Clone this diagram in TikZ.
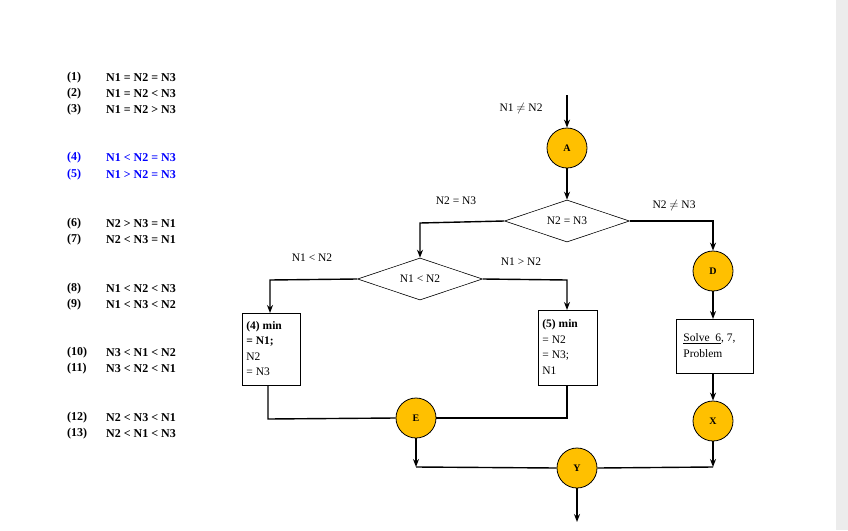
\documentclass[tikz,border=0pt]{standalone}
\usepackage{fontspec}
\setmainfont{Liberation Serif}
\usetikzlibrary{shapes.geometric,arrows.meta}
\definecolor{node yellow}{HTML}{FFC000}
\definecolor{list blue}{HTML}{0000FF}
\begin{document}
\begin{tikzpicture}[x=1pt,y=-1pt,font=\fontsize{11.5}{13}\selectfont,
  flow/.style={line width=1.4pt,-{Stealth[length=8pt,width=6pt]}},
  link/.style={line width=1.4pt},
  conn/.style={circle,draw,line width=0.8pt,fill=node yellow,minimum size=40pt,inner sep=0pt,font=\fontsize{10}{11}\selectfont\bfseries},
  dec/.style={diamond,draw,line width=0.6pt,aspect=3,minimum width=125pt,minimum height=42pt,inner sep=0pt},
  proc/.style={draw,line width=0.8pt,align=left,anchor=north west,inner sep=0pt},
  lbl/.style={anchor=west,inner sep=0pt}]
\useasboundingbox (0,0) rectangle (848,530);
\fill[gray!15] (836,0) rectangle (848,530);
% list
\foreach \y/\n/\t/\c in {78/1/N1 = N2 = N3/black,94/2/N1 = N2 < N3/black,110/3/N1 = N2 > N3/black,
  158/4/N1 < N2 = N3/list blue,175/5/N1 > N2 = N3/list blue,
  224/6/N2 > N3 = N1/black,240/7/N2 < N3 = N1/black,
  289/8/N1 < N2 < N3/black,305/9/N1 < N3 < N2/black,
  353/10/N3 < N1 < N2/black,369/11/N3 < N2 < N1/black,
  418/12/N2 < N3 < N1/black,434/13/N2 < N1 < N3/black}{
  \node[lbl,text=\c,font=\fontsize{12}{13}\selectfont\bfseries] (l\n) at (67,\y) {(\n)};
  \node[lbl,text=\c,font=\fontsize{12}{13}\selectfont\bfseries] (t\n) at (106,\y) {\t};
}
% flowchart nodes
\coordinate (start) at (567,95);
\node[conn] (A) at (567,148) {A};
\node[dec] (d1) at (567,221) {N2 = N3};
\node[dec] (d2) at (420,279) {N1 < N2};
\node[conn] (D) at (713,271) {D};
\node[proc,minimum width=58pt,minimum height=72pt] (b4) at (242,313)
  {\hspace*{4pt}\parbox[t]{54pt}{\fontsize{11.5}{15.5}\selectfont\vspace{-2pt}\textbf{(4) min}\\\textbf{= N1;}\\N2\\= N3}};
\node[proc,minimum width=59pt,minimum height=75pt] (b5) at (538,310)
  {\hspace*{4pt}\parbox[t]{55pt}{\fontsize{11.5}{15.5}\selectfont\vspace{-2pt}\textbf{(5) min}\\= N2\\= N3;\\N1}};
\node[proc,minimum width=77pt,minimum height=54pt] (b6) at (676,319)
  {\hspace*{7pt}\parbox[t]{70pt}{\fontsize{11.5}{15.5}\selectfont\vspace{-2pt}\underline{Solve\ \ 6}, 7,\\Problem}};
\node[conn] (X) at (713,421) {X};
\node[conn] (E) at (416,418) {E};
\node[conn] (Y) at (577,468) {Y};
\coordinate (end) at (577,522);
% labels
\node (la) at (521,108) {N1 $\neq$ N2};
\node (lb) at (456,201) {N2 = N3};
\node (lc) at (674,205) {N2 $\neq$ N3};
\node (ld) at (312,258) {N1 < N2};
\node (le) at (521,262) {N1 > N2};
% connectors
\draw[flow] (start) -- (A);
\draw[flow] (A) -- (d1);
\draw[flow] (d1.west) -- (420,223) -- (d2.north);
\draw[flow] (d1.east) -- (713,221) -- (D);
\draw[flow] (d2.west) -- (270,280) -- (270,313);
\draw[flow] (d2.east) -- (567,280) -- (567,310);
\draw[flow] (D) -- (D|-b6.north);
\draw[flow] (X|-b6.south) -- (X);
\draw[link] (268,385) -- (268,419) -- (E.west);
\draw[link] (567,385) -- (567,418) -- (E.east);
\draw[flow] (E) -- (416,467);
\draw[link] (416,467) -- (Y.west);
\draw[flow] (X) -- (713,467);
\draw[link] (713,467) -- (Y.east);
\draw[flow] (Y) -- (end);
\end{tikzpicture}
\end{document}
